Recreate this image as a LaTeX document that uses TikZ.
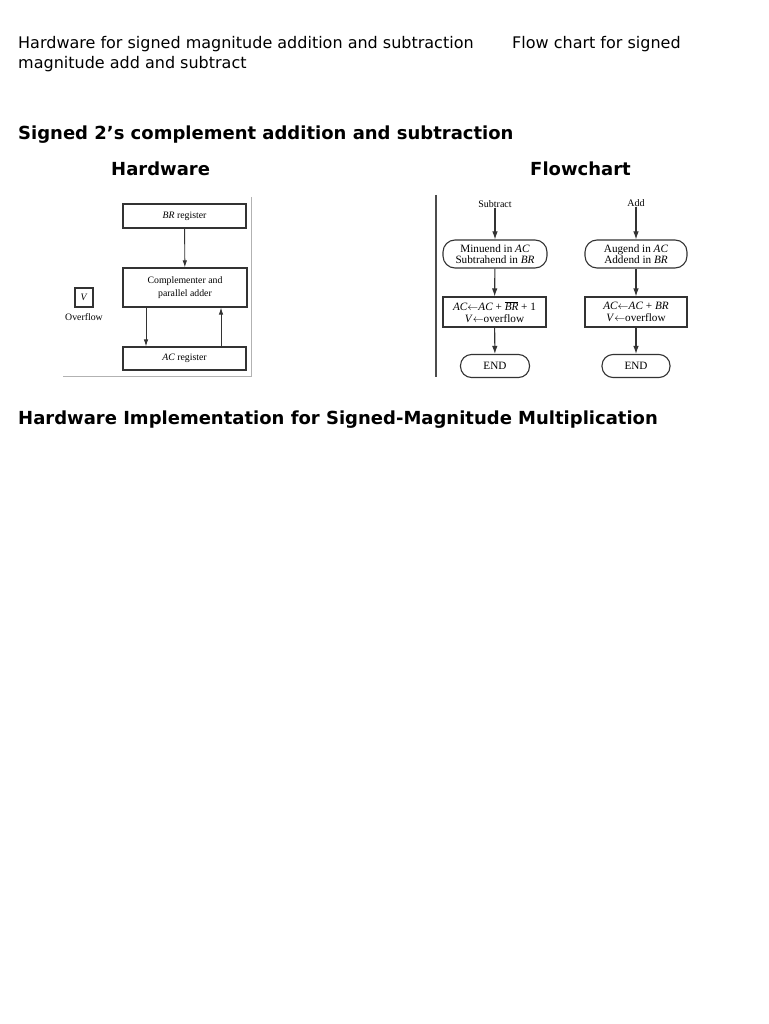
\documentclass[tikz,border=0pt]{standalone}
\usepackage{fontspec}
\setmainfont{DejaVu Sans}
\newfontfamily\scanfont{Liberation Serif}
\usetikzlibrary{positioning,arrows.meta}
\tikzset{
  bodytext/.style={inner sep=0pt, anchor=base west, font=\fontsize{16}{20}\selectfont},
  headtext/.style={inner sep=0pt, anchor=base west, font=\bfseries\fontsize{18}{22}\selectfont},
  hwbox/.style={draw=black!80, line width=1.2pt, inner sep=0pt, align=center,
    font=\scanfont\fontsize{9.8}{13}\selectfont},
  hwlabel/.style={inner sep=0pt, font=\scanfont\fontsize{9.8}{12}\selectfont},
  hwarrow/.style={-{Latex[length=7pt,width=4.5pt]}, draw=black!80, line width=0.9pt},
  fcbox/.style={draw=black!80, line width=1.1pt, inner sep=0pt, align=center,
    minimum height=30pt, font=\scanfont\fontsize{11.2}{11.5}\selectfont},
  fcterm/.style={fcbox, rounded corners=12pt},
  fclabel/.style={inner sep=0pt, font=\scanfont\fontsize{10}{12}\selectfont},
  fcarrow/.style={-{Latex[length=8pt,width=5.5pt]}, draw=black!80, line width=1.1pt}
}
\begin{document}
\begin{tikzpicture}[x=1pt, y=-1pt]
\useasboundingbox (0,0) rectangle (768,1024);
% page text
\node[bodytext] (t1) at (18,49) {Hardware for signed magnitude addition and subtraction};
\node[bodytext] (t2) at (512,49) {Flow chart for signed};
\node[bodytext] (t3) at (18,69) {magnitude add and subtract};
\node[headtext] (h1) at (18,140) {Signed 2’s complement addition and subtraction};
\node[headtext] (h2) at (111,176) {Hardware};
\node[headtext] (h3) at (530,176) {Flowchart};
\node[headtext] (h4) at (18,424) {Hardware Implementation for Signed-Magnitude Multiplication};

% hardware
\draw[black!30, line width=1pt] (251,197) -- (251,376) -- (63,376);
\node[hwbox, minimum width=123pt, minimum height=24pt] (br) at (184.5,216) {\textit{BR} register};
\node[hwbox, minimum width=124pt, minimum height=39pt] (cpa) at (185,287.5) {Complementer and\\parallel adder};
\node[hwbox, minimum width=123pt, minimum height=23pt] (acreg) at (184.5,358.5) {\textit{AC} register};
\node[hwbox, minimum width=18pt, minimum height=19pt] (vbit) at (84,297.5) {\textit{V}};
\node[hwlabel, below=6pt of vbit] (ovf) {Overflow};
\draw[hwarrow] (br) -- (cpa);
\draw[hwarrow] ([xshift=-39pt]cpa.south) -- ([xshift=-38.5pt]acreg.north);
\draw[hwarrow] ([xshift=36.5pt]acreg.north) -- ([xshift=36pt]cpa.south);

% flowchart
\draw[black!70, line width=1.3pt] (436,195) -- (436,377);
\node[fclabel] (sublbl) at (495,204) {Subtract};
\node[fcterm, minimum width=104pt, minimum height=28pt] (subin) at (495,254) {Minuend in \textit{AC}\\Subtrahend in \textit{BR}};
\node[fcbox, minimum width=103pt] (subop) at (494.5,312) {\textit{AC}$\leftarrow$\textit{AC} + $\overline{\hbox{\textit{BR}}}$ + 1\\\textit{V}$\leftarrow$overflow};
\node[fcterm, minimum width=69pt, minimum height=23pt, rounded corners=11pt] (subend) at (495,366) {END};
\draw[fcarrow] (sublbl) -- (subin);
\draw[fcarrow] (subin) -- (subop);
\draw[fcarrow] (subop) -- (subend);

\node[fclabel] (addlbl) at (636,203) {Add};
\node[fcterm, minimum width=102pt, minimum height=28pt] (addin) at (636,254) {Augend in \textit{AC}\\Addend in \textit{BR}};
\node[fcbox, minimum width=102pt] (addop) at (636,312) {\textit{AC}$\leftarrow$\textit{AC} + \textit{BR}\\\textit{V}$\leftarrow$overflow};
\node[fcterm, minimum width=68pt, minimum height=23pt, rounded corners=11pt] (addend) at (636,366) {END};
\draw[fcarrow] (addlbl) -- (addin);
\draw[fcarrow] (addin) -- (addop);
\draw[fcarrow] (addop) -- (addend);
\end{tikzpicture}
\end{document}
